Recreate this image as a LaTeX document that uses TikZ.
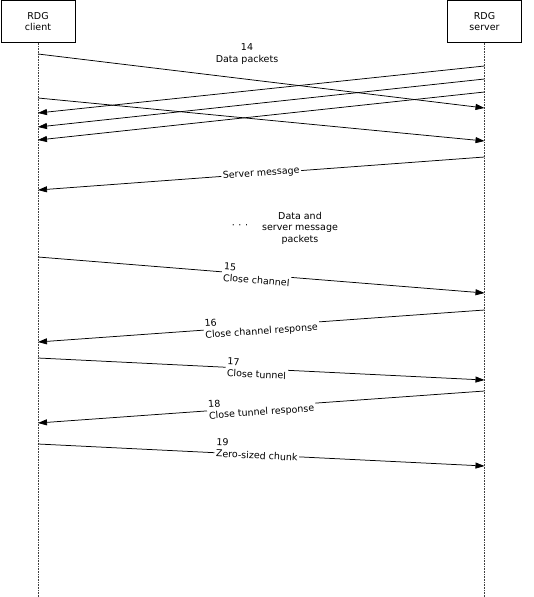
\documentclass[tikz,border=0pt]{standalone}
\usepackage{fontspec}
\setmainfont{DejaVu Sans}
\usepackage{tikz}
\usetikzlibrary{arrows.meta, positioning}

\begin{document}
\begin{tikzpicture}[
  x=1pt, y=-1pt,
  txt/.style={font=\fontsize{9.5}{11.5}\selectfont, inner sep=1pt},
  actor/.style={rectangle, draw=black, line width=0.7pt, minimum width=74pt,
               minimum height=42pt, align=center, txt},
  lifeline/.style={densely dotted, line width=0.6pt, color=black!75},
  msg/.style={-{Triangle[length=9pt, width=6pt]}, line width=0.75pt, color=black},
  lbl/.style={txt, sloped, fill=white, align=left, inner sep=1.5pt}
]
\useasboundingbox (0,0) rectangle (533,597);

\node[actor] (client) at (38,21.5) {RDG\\client};
\node[actor] (server) at (484.5,21.5) {RDG\\server};

\coordinate (clientend) at (client.south |- 0,597);
\coordinate (serverend) at (server.south |- 0,597);
\draw[lifeline] (client.south) -- (clientend);
\draw[lifeline] (server.south) -- (serverend);

% data packets
\coordinate (c1) at (client.south |- 0,54);
\coordinate (s1) at (server.south |- 0,108);
\coordinate (s2) at (server.south |- 0,66);
\coordinate (c2) at (client.south |- 0,113);
\coordinate (s3) at (server.south |- 0,79);
\coordinate (c3) at (client.south |- 0,127);
\coordinate (s4) at (server.south |- 0,92);
\coordinate (c4) at (client.south |- 0,140);
\coordinate (c5) at (client.south |- 0,98);
\coordinate (s5) at (server.south |- 0,141);

\node[txt, align=center] (datalbl) at (247,54) {14\\Data packets};
\draw[msg] (c1) -- (s1);
\draw[msg] (s2) -- (c2);
\draw[msg] (s3) -- (c3);
\draw[msg] (s4) -- (c4);
\draw[msg] (c5) -- (s5);

% server message
\coordinate (s6) at (server.south |- 0,157);
\coordinate (c6) at (client.south |- 0,190);
\draw[msg] (s6) -- node[lbl, align=center, pos=.5] {Server message} (c6);

\node[txt] (dots) at (240,227) {·\hspace{3.5pt}·\hspace{3.5pt}·};
\node[txt, align=center] (morelbl) at (300,228) {Data and\\server message\\packets};

% closing sequence
\coordinate (c7) at (client.south |- 0,257);
\coordinate (s7) at (server.south |- 0,293);
\draw[msg] (c7) -- node[lbl, pos=.49] {15\\Close channel} (s7);

\coordinate (s8) at (server.south |- 0,310);
\coordinate (c8) at (client.south |- 0,342);
\draw[msg] (s8) -- node[lbl, pos=.5] {16\\Close channel response} (c8);

\coordinate (c9) at (client.south |- 0,358);
\coordinate (s9) at (server.south |- 0,380);
\draw[msg] (c9) -- node[lbl, pos=.49] {17\\Close tunnel} (s9);

\coordinate (s10) at (server.south |- 0,391);
\coordinate (c10) at (client.south |- 0,423);
\draw[msg] (s10) -- node[lbl, pos=.5] {18\\Close tunnel response} (c10);

\coordinate (c11) at (client.south |- 0,444);
\coordinate (s11) at (server.south |- 0,466);
\draw[msg] (c11) -- node[lbl, pos=.49, yshift=5pt] {19\\Zero-sized chunk} (s11);

\end{tikzpicture}
\end{document}
